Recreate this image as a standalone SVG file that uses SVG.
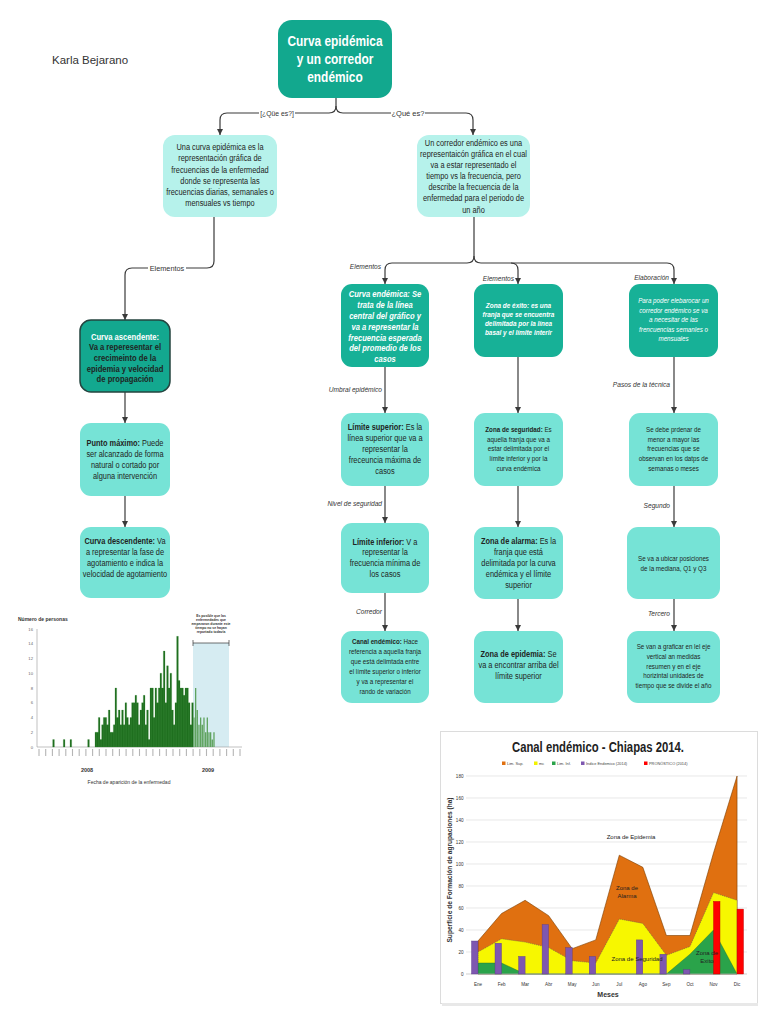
<svg xmlns="http://www.w3.org/2000/svg" width="768" height="1024" viewBox="0 0 768 1024">
<style>
text{font-family:"Liberation Sans",Arial,sans-serif}
.t{text-anchor:middle}
.dk{fill:#1f2523}
.wh{fill:#ffffff}
.b{font-weight:bold}
.i{font-style:italic}
.root{fill:#12a88e}
.lt{fill:#b6f2eb}
.dt{fill:#17b197}
.md{fill:#76e3d6}
.conn path{fill:none;stroke:#3a3a3a;stroke-width:1.2}
.lbl{font-size:6.6px;fill:#333;font-style:italic;text-anchor:end}
.grid{stroke:#d9d9d9;stroke-width:0.6}
.ax{font-size:4.6px;fill:#333}
</style>
<defs>
<marker id="arr" viewBox="0 0 10 10" refX="10" refY="5" markerWidth="6" markerHeight="6" orient="auto" markerUnits="userSpaceOnUse">
<path d="M0,0 L10,5 L0,10 z" fill="#3a3a3a"/>
</marker>
</defs>
<rect width="768" height="1024" fill="#ffffff"/>

<text x="52" y="64" font-size="11.5" fill="#333">Karla Bejarano</text>

<g class="conn">
<path d="M336,98 V106 Q336,113 329,113 H227 Q220,113 220,120 V135" marker-end="url(#arr)"/>
<path d="M336,106 Q336,113 343,113 H466 Q473,113 473,120 V135" marker-end="url(#arr)"/>
<path d="M214,217 V261 Q214,268 207,268 H132 Q125,268 125,275 V320" marker-end="url(#arr)"/>
<path d="M125,392 V423" marker-end="url(#arr)"/>
<path d="M125,496 V527" marker-end="url(#arr)"/>
<path d="M474,217 V256 Q474,263 467,263 H392 Q385,263 385,270 V284" marker-end="url(#arr)"/>
<path d="M474,256 Q474,263 481,263 H667 Q674,263 674,270 V284" marker-end="url(#arr)"/>
<path d="M511,263 Q518,263 518,270 V284" marker-end="url(#arr)"/>
<path d="M385,367 V413" marker-end="url(#arr)"/>
<path d="M385,486 V523" marker-end="url(#arr)"/>
<path d="M385,593 V631" marker-end="url(#arr)"/>
<path d="M518,357 V413" marker-end="url(#arr)"/>
<path d="M518,486 V527" marker-end="url(#arr)"/>
<path d="M518,599 V631" marker-end="url(#arr)"/>
<path d="M674,357 V413" marker-end="url(#arr)"/>
<path d="M674,486 V527" marker-end="url(#arr)"/>
<path d="M674,599 V631" marker-end="url(#arr)"/>
<rect x="259" y="109" width="36" height="9" fill="#fff"/>
<text x="277" y="115.5" font-size="6.8" fill="#333" class="t">[¿Qüe es?]</text>
<rect x="391" y="108" width="34" height="10" fill="#fff"/>
<text x="408" y="116" font-size="7.5" fill="#333" class="t">¿Qué es?</text>
<rect x="148" y="263" width="38" height="9" fill="#fff"/>
<text x="167" y="270.5" font-size="7.3" fill="#333" class="t">Elementos</text>
<text x="381" y="268.5" class="lbl">Elementos</text>
<text x="514" y="280.5" class="lbl">Elementos</text>
<text x="669" y="280" class="lbl">Elaboración</text>
<text x="382" y="391.5" class="lbl">Umbral epidémico</text>
<text x="382" y="505.5" class="lbl">Nivel de seguridad</text>
<text x="382" y="613.5" class="lbl">Corredor</text>
<text x="670" y="386.5" class="lbl">Pasos de la técnica</text>
<text x="670" y="507.5" class="lbl">Segundo</text>
<text x="670" y="615.5" class="lbl">Tercero</text>
</g>

<g id="root">
<rect x="278" y="20" width="114" height="78" rx="14" class="root"/>
<g transform="translate(335 0) scale(0.85 1)"><text class="t wh b" font-size="14">
<tspan x="0" y="46">Curva epidémica</tspan><tspan x="0" y="64">y un corredor</tspan><tspan x="0" y="82">endémico</tspan></text></g>
</g>

<g id="def-curva">
<rect x="163" y="135" width="114" height="82" rx="12" class="lt"/>
<g transform="translate(220 0) scale(0.78 1)"><text class="t dk" font-size="9.5">
<tspan x="0" y="150.5">Una curva epidémica es la</tspan><tspan x="0" y="161.5">representación gráfica de</tspan><tspan x="0" y="173">frecuencias de la enfermedad</tspan><tspan x="0" y="184">donde se representa las</tspan><tspan x="0" y="195">frecuencias diarias, semanales o</tspan><tspan x="0" y="206">mensuales vs tiempo</tspan></text></g>
</g>

<g id="def-corredor">
<rect x="417" y="135" width="113" height="82" rx="12" class="lt"/>
<g transform="translate(473.5 0) scale(0.78 1)"><text class="t dk" font-size="9.5">
<tspan x="0" y="146.5">Un corredor endémico es una</tspan><tspan x="0" y="157.5">representaicón gráfica en el cual</tspan><tspan x="0" y="168.5">va a estar representado el</tspan><tspan x="0" y="179.5">tiempo vs la frecuencia, pero</tspan><tspan x="0" y="190.5">describe la frecuencia de la</tspan><tspan x="0" y="201.5">enfermedad para el periodo de</tspan><tspan x="0" y="213">un año</tspan></text></g>
</g>

<g id="curva-ascendente">
<rect x="80" y="320" width="90" height="72" rx="11" fill="#13a88f" stroke="#24443f" stroke-width="1.5"/>
<g transform="translate(125 0) scale(0.78 1)"><text class="t b" font-size="9.8">
<tspan x="0" y="340" class="wh">Curva ascendente:</tspan><tspan x="0" y="350.5" class="dk">Va a reperesentar el</tspan><tspan x="0" y="361" class="dk">crecimeinto de la</tspan><tspan x="0" y="372" class="dk">epidemia y velocidad</tspan><tspan x="0" y="382.5" class="dk">de propagación</tspan></text></g>
</g>

<g id="punto-maximo">
<rect x="80" y="423" width="90" height="73" rx="11" class="md"/>
<g transform="translate(125 0) scale(0.78 1)"><text class="t dk" font-size="9.5">
<tspan x="0" y="446.5"><tspan class="b">Punto máximo:</tspan> Puede</tspan><tspan x="0" y="457.5">ser alcanzado de forma</tspan><tspan x="0" y="468.5">natural o cortado por</tspan><tspan x="0" y="479.5">alguna intervención</tspan></text></g>
</g>

<g id="curva-descendente">
<rect x="80" y="527" width="90" height="71" rx="11" class="md"/>
<g transform="translate(125 0) scale(0.78 1)"><text class="t dk" font-size="9.5">
<tspan x="0" y="544.5"><tspan class="b">Curva descendente:</tspan> Va</tspan><tspan x="0" y="555.5">a representar la fase de</tspan><tspan x="0" y="566.5">agotamiento e indica la</tspan><tspan x="0" y="577">velocidad de agotamiento</tspan></text></g>
</g>

<g id="curva-endemica">
<rect x="341" y="284" width="88" height="83" rx="11" class="dt"/>
<g transform="translate(385 0) scale(0.8 1)"><text class="t wh b i" font-size="9.5">
<tspan x="0" y="297.5">Curva endémica: Se</tspan><tspan x="0" y="308.5">trata de la línea</tspan><tspan x="0" y="319.5">central del gráfico y</tspan><tspan x="0" y="330.5">va a representar la</tspan><tspan x="0" y="341.5">frecuencia esperada</tspan><tspan x="0" y="351.5">del promedio de los</tspan><tspan x="0" y="362.5">casos</tspan></text></g>
</g>

<g id="zona-exito">
<rect x="474" y="284" width="89" height="73" rx="11" class="dt"/>
<g transform="translate(518.5 0) scale(0.8 1)"><text class="t wh b i" font-size="8">
<tspan x="0" y="308.5">Zona de éxito: es una</tspan><tspan x="0" y="317.5">franja que se encuentra</tspan><tspan x="0" y="326.5">delimitada por la línea</tspan><tspan x="0" y="335.5">basal y el límite interir</tspan></text></g>
</g>

<g id="elaboracion">
<rect x="629" y="284" width="89" height="73" rx="11" class="dt"/>
<g transform="translate(673.5 0) scale(0.8 1)"><text class="t wh i" font-size="7.8">
<tspan x="0" y="303.5">Para poder elebarocar un</tspan><tspan x="0" y="313">corredor endémico se va</tspan><tspan x="0" y="322.5">a necesitar de las</tspan><tspan x="0" y="332">frencuencias semanles o</tspan><tspan x="0" y="341.5">mensuales</tspan></text></g>
</g>

<g id="limite-superior">
<rect x="341" y="413" width="88" height="73" rx="11" class="md"/>
<g transform="translate(385 0) scale(0.78 1)"><text class="t dk" font-size="9.5">
<tspan x="0" y="430.5"><tspan class="b">Límite superior:</tspan> Es la</tspan><tspan x="0" y="441.5">línea superior que va a</tspan><tspan x="0" y="452.5">representar la</tspan><tspan x="0" y="463.5">freceuncia máxima de</tspan><tspan x="0" y="474.5">casos</tspan></text></g>
</g>

<g id="limite-inferior">
<rect x="341" y="523" width="88" height="70" rx="11" class="md"/>
<g transform="translate(385 0) scale(0.78 1)"><text class="t dk" font-size="9.5">
<tspan x="0" y="545.5"><tspan class="b">Límite inferior:</tspan> V a</tspan><tspan x="0" y="555.5">representar la</tspan><tspan x="0" y="566.5">frecuencia mínima de</tspan><tspan x="0" y="577.5">los casos</tspan></text></g>
</g>

<g id="canal-endemico">
<rect x="341" y="631" width="88" height="72" rx="11" class="md"/>
<g transform="translate(385 0) scale(0.8 1)"><text class="t dk" font-size="7.8">
<tspan x="0" y="644.5"><tspan class="b">Canal endémico:</tspan>  Hace</tspan><tspan x="0" y="654.5">referencia a aquella franja</tspan><tspan x="0" y="664.5">que está delimtada entre</tspan><tspan x="0" y="674">el límite superior o inferior</tspan><tspan x="0" y="684">y va a representar el</tspan><tspan x="0" y="694">rando de variación</tspan></text></g>
</g>

<g id="zona-seguridad">
<rect x="474" y="413" width="89" height="73" rx="11" class="md"/>
<g transform="translate(518.5 0) scale(0.8 1)"><text class="t dk" font-size="7.8">
<tspan x="0" y="432.5"><tspan class="b">Zona de seguridad:</tspan>  Es</tspan><tspan x="0" y="442.5">aquella franja que va a</tspan><tspan x="0" y="451.5">estar delimitada por el</tspan><tspan x="0" y="461.5">límite inferior y por la</tspan><tspan x="0" y="471.5">curva endémica</tspan></text></g>
</g>

<g id="zona-alarma">
<rect x="474" y="527" width="89" height="72" rx="11" class="md"/>
<g transform="translate(518.5 0) scale(0.78 1)"><text class="t dk" font-size="9.5">
<tspan x="0" y="544.5"><tspan class="b">Zona de alarma:</tspan> Es la</tspan><tspan x="0" y="555.5">franja que está</tspan><tspan x="0" y="566.5">delimitada por la curva</tspan><tspan x="0" y="577.5">endémica y el límite</tspan><tspan x="0" y="588.5">superior</tspan></text></g>
</g>

<g id="zona-epidemia">
<rect x="474" y="631" width="89" height="72" rx="11" class="md"/>
<g transform="translate(518.5 0) scale(0.78 1)"><text class="t dk" font-size="9.5">
<tspan x="0" y="657.5"><tspan class="b">Zona de epidemia:</tspan> Se</tspan><tspan x="0" y="668.5">va a encontrar arriba del</tspan><tspan x="0" y="679.5">límite superior</tspan></text></g>
</g>

<g id="paso-1">
<rect x="629" y="413" width="89" height="73" rx="11" class="md"/>
<g transform="translate(673.5 0) scale(0.8 1)"><text class="t dk" font-size="7.8">
<tspan x="0" y="432.5">Se debe prdenar de</tspan><tspan x="0" y="442.5">menor a mayor las</tspan><tspan x="0" y="451.5">frecuencias que se</tspan><tspan x="0" y="461.5">observan en los datps de</tspan><tspan x="0" y="471.5">semanas o meses</tspan></text></g>
</g>

<g id="paso-2">
<rect x="627" y="527" width="93" height="72" rx="11" class="md"/>
<g transform="translate(673.5 0) scale(0.8 1)"><text class="t dk" font-size="7.8">
<tspan x="0" y="561">Se va a ubicar posiciones</tspan><tspan x="0" y="571">de la mediana, Q1 y Q3</tspan></text></g>
</g>

<g id="paso-3">
<rect x="627" y="631" width="93" height="72" rx="11" class="md"/>
<g transform="translate(673.5 0) scale(0.8 1)"><text class="t dk" font-size="7.8">
<tspan x="0" y="649.5">Se van a graficar en lel eje</tspan><tspan x="0" y="659">vertical an medidas</tspan><tspan x="0" y="669">resumen y en el eje</tspan><tspan x="0" y="678.5">horizintal unidades de</tspan><tspan x="0" y="688">tiempo que se divide el año</tspan></text></g>
</g>

<!-- Epidemic curve chart -->
<g id="chart-epidemic">
<rect x="193" y="643" width="36" height="104" fill="#d6ecf2"/>
<path d="M193,640 V646 M193,643 H229 M229,640 V646" stroke="#333" stroke-width="0.7" fill="none"/>
<text class="t b" font-size="3.4" fill="#333"><tspan x="211" y="617">Es posible que las</tspan><tspan x="211" y="621">enfermedades que</tspan><tspan x="211" y="625">empezaron durante este</tspan><tspan x="211" y="629">tiempo no se hayan</tspan><tspan x="211" y="633">reportado todavía</tspan></text>
<text x="18" y="621" font-size="5" fill="#333" class="b">Número de personas</text>
<path d="M37,629 V747 H242" stroke="#999" stroke-width="0.6" fill="none"/>
<g font-size="4.2" fill="#666" text-anchor="end">
<text x="33" y="630.5">16</text><text x="33" y="645.2">14</text><text x="33" y="660">12</text><text x="33" y="674.7">10</text><text x="33" y="689.5">8</text><text x="33" y="704.2">6</text><text x="33" y="719">4</text><text x="33" y="733.7">2</text><text x="33" y="748.5">0</text>
</g>
<path d="M52.7 747v-7.38h1.67v7.38zM63.3 747v-7.38h1.67v7.38zM70 747v-7.38h1.67v7.38zM87.7 747v-7.38h1.67v7.38zM95 747v-14.75h1.67v14.75zM96.67 747v-14.75h1.67v14.75zM98.33 747v-29.5h1.67v29.5zM100 747v-7.38h1.67v7.38zM101.67 747v-22.13h1.67v22.13zM103.33 747v-29.5h1.67v29.5zM105 747v-29.5h1.67v29.5zM106.67 747v-22.13h1.67v22.13zM108.33 747v-36.88h1.67v36.88zM110 747v-14.75h1.67v14.75zM111.67 747v-14.75h1.67v14.75zM113.33 747v-22.13h1.67v22.13zM115 747v-59h1.67v59zM116.67 747v-29.5h1.67v29.5zM118.33 747v-36.88h1.67v36.88zM120 747v-22.13h1.67v22.13zM121.67 747v-36.88h1.67v36.88zM123.33 747v-22.13h1.67v22.13zM125 747v-44.25h1.67v44.25zM126.67 747v-29.5h1.67v29.5zM128.33 747v-22.13h1.67v22.13zM130 747v-29.5h1.67v29.5zM131.67 747v-44.25h1.67v44.25zM133.33 747v-44.25h1.67v44.25zM135 747v-51.63h1.67v51.63zM136.67 747v-44.25h1.67v44.25zM138.33 747v-22.13h1.67v22.13zM140 747v-36.88h1.67v36.88zM141.67 747v-44.25h1.67v44.25zM143.33 747v-51.63h1.67v51.63zM145 747v-22.13h1.67v22.13zM146.67 747v-36.88h1.67v36.88zM148.33 747v-7.38h1.67v7.38zM150 747v-59h1.67v59zM151.67 747v-59h1.67v59zM153.33 747v-29.5h1.67v29.5zM155 747v-59h1.67v59zM156.67 747v-44.25h1.67v44.25zM158.33 747v-59h1.67v59zM160 747v-73.75h1.67v73.75zM161.67 747v-59h1.67v59zM163.33 747v-95.88h1.67v95.88zM165 747v-44.25h1.67v44.25zM166.67 747v-81.13h1.67v81.13zM168.33 747v-59h1.67v59zM170 747v-73.75h1.67v73.75zM171.67 747v-36.88h1.67v36.88zM173.33 747v-22.13h1.67v22.13zM175 747v-44.25h1.67v44.25zM176.67 747v-110.63h1.67v110.63zM178.33 747v-66.38h1.67v66.38zM180 747v-59h1.67v59zM181.67 747v-59h1.67v59zM183.33 747v-51.63h1.67v51.63zM185 747v-59h1.67v59zM186.67 747v-59h1.67v59zM188.33 747v-44.25h1.67v44.25zM190 747v-22.13h1.67v22.13zM191.67 747v-44.25h1.67v44.25z" fill="#1e6d1e" stroke="#3c8f3c" stroke-width="0.25"/>
<path d="M193.33 747v-29.5h1.3v29.5zM195 747v-59h1.3v59zM196.67 747v-36.88h1.3v36.88zM198.33 747v-22.13h1.3v22.13zM200 747v-29.5h1.3v29.5zM201.67 747v-22.13h1.3v22.13zM203.33 747v-29.5h1.3v29.5zM205 747v-14.75h1.3v14.75zM206.67 747v-29.5h1.3v29.5zM208.33 747v-14.75h1.3v14.75zM210 747v-14.75h1.3v14.75zM211.67 747v-7.38h1.3v7.38zM213.33 747v-14.75h1.3v14.75z" fill="#5fa35f"/>
<path d="M39 749v7M45.7 749v7M52.4 749v7M59.1 749v7M65.8 749v7M72.5 749v7M79.2 749v7M85.9 749v7M92.6 749v7M99.3 749v7M106 749v7M112.7 749v7M119.4 749v7M126.1 749v7M132.8 749v7M139.5 749v7M146.2 749v7M152.9 749v7M159.6 749v7M166.3 749v7M173 749v7M179.7 749v7M186.4 749v7M193.1 749v7M199.8 749v7M206.5 749v7M213.2 749v7M219.9 749v7M226.6 749v7M233.3 749v7M240 749v7" stroke="#b5b5b5" stroke-width="1.1"/>
<text x="87" y="772" font-size="5.5" fill="#333" class="t b">2008</text>
<text x="208" y="772" font-size="5.5" fill="#333" class="t b">2009</text>
<text x="129" y="783.5" font-size="5" fill="#333" class="t">Fecha de aparición de la enfermedad</text>
</g>

<!-- Endemic channel chart -->
<g id="chart-canal">
<rect x="440.5" y="731.5" width="317" height="272" fill="#fff" stroke="#dcdcdc" stroke-width="1"/>
<rect x="442" y="1003" width="316" height="3" fill="#e8e8e8"/>
<text x="598" y="752" font-size="14" class="t b" fill="#222" textLength="172" lengthAdjust="spacingAndGlyphs">Canal endémico - Chiapas 2014.</text>
<g font-size="3.9" fill="#444">
<rect x="502" y="761.5" width="3.5" height="3.5" fill="#e07010"/><text x="507" y="764.8">Lim. Sup.</text>
<rect x="534" y="761.5" width="3.5" height="3.5" fill="#f2f200"/><text x="539" y="764.8">mc</text>
<rect x="552" y="761.5" width="3.5" height="3.5" fill="#2aa34a"/><text x="557" y="764.8">Lim. Inf.</text>
<rect x="581" y="761.5" width="3.5" height="3.5" fill="#7e57b0"/><text x="586" y="764.8">Índice Endemico (2014)</text>
<rect x="644" y="761.5" width="3.5" height="3.5" fill="#ff0000"/><text x="649" y="764.8">PRONÓSTICO (2014)</text>
</g>
<path class="grid" d="M466 776H747M466 798H747M466 820H747M466 842H747M466 864H747M466 886H747M466 908H747M466 930H747M466 952H747"/>
<g class="ax" text-anchor="end">
<text x="463.5" y="777.7">180</text><text x="463.5" y="799.7">160</text><text x="463.5" y="821.7">140</text><text x="463.5" y="843.7">120</text><text x="463.5" y="865.7">100</text><text x="463.5" y="887.7">80</text><text x="463.5" y="909.7">60</text><text x="463.5" y="931.7">40</text><text x="463.5" y="953.7">20</text><text x="463.5" y="975.7">0</text>
</g>
<path d="M478,974 L478,941 L501.55,913.5 L525.1,900.3 L548.65,915.7 L572.2,948.7 L595.75,939.9 L619.3,855.2 L642.85,867.3 L666.4,935.5 L689.95,935.5 L713.5,853 L737.05,776 L737.05,974 Z" fill="#e07010" stroke="#7a3c00" stroke-width="0.6"/>
<path d="M478,974 L478,952 L501.55,938.8 L525.1,942.1 L548.65,947.6 L572.2,960.8 L595.75,963 L619.3,919 L642.85,923.4 L666.4,955.3 L689.95,946.5 L713.5,892.6 L737.05,900.3 L737.05,974 Z" fill="#f7f700" stroke="#555" stroke-width="0.5" stroke-dasharray="1.2,0.8"/>
<path d="M478,974 L478,963 L501.55,963 L525.1,974 L666.4,974 L689.95,954.2 L713.5,930 L737.05,974 Z" fill="#2aa34a" stroke="#1a6a2e" stroke-width="0.4"/>
<path d="M466 974H747" stroke="#bbb" stroke-width="0.7"/>
<g fill="#7e57b0" stroke="#5b3d85" stroke-width="0.4">
<rect x="471.5" y="941" width="6.5" height="33"/>
<rect x="495" y="943.2" width="6.5" height="30.8"/>
<rect x="518.6" y="956.4" width="6.5" height="17.6"/>
<rect x="542.1" y="924.5" width="6.5" height="49.5"/>
<rect x="565.7" y="947.6" width="6.5" height="26.4"/>
<rect x="589.2" y="956.4" width="6.5" height="17.6"/>
<rect x="636.3" y="939.9" width="6.5" height="34.1"/>
<rect x="659.9" y="954.2" width="6.5" height="19.8"/>
<rect x="683.4" y="969.6" width="6.5" height="4.4"/>
</g>
<g fill="#ff0000" stroke="#b00000" stroke-width="0.4">
<rect x="713.5" y="901.4" width="6.5" height="72.6"/>
<rect x="737" y="909.1" width="6.5" height="64.9"/>
</g>
<g font-size="6" fill="#222" text-anchor="middle">
<text x="631" y="838.5">Zona de Epidemia</text>
<text x="627" y="889.5">Zona de</text><text x="627" y="897.5">Alarma</text>
<text x="637" y="960.5">Zona de Seguridad</text>
<text x="707" y="955">Zona de</text><text x="707" y="963">Exito</text>
</g>
<g class="ax" text-anchor="middle" font-size="5.5">
<text x="478" y="986">Ene</text><text x="501.6" y="986">Feb</text><text x="525.1" y="986">Mar</text><text x="548.7" y="986">Abr</text><text x="572.2" y="986">May</text><text x="595.8" y="986">Jun</text><text x="619.3" y="986">Jul</text><text x="642.9" y="986">Ago</text><text x="666.4" y="986">Sep</text><text x="690" y="986">Oct</text><text x="713.5" y="986">Nov</text><text x="737" y="986">Dic</text>
</g>
<text x="608" y="997" font-size="7" class="t b" fill="#333">Meses</text>
<text transform="translate(451.5 870) rotate(-90)" font-size="6.6" class="t b" fill="#333">Superficie de Formación de agrupaciones (ha)</text>
</g>
</svg>
